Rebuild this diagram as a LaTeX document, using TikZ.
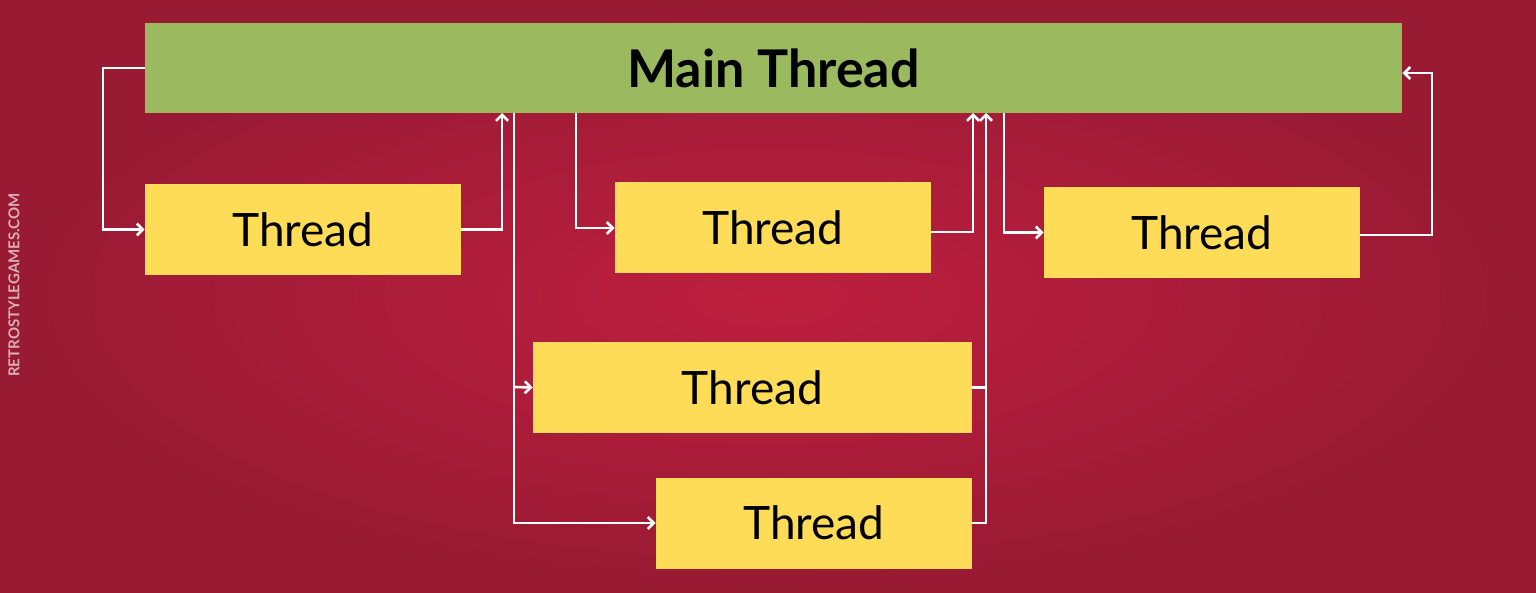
\documentclass[tikz,border=0pt]{standalone}
\usepackage{fontspec}
\setmainfont{Lato}
\usetikzlibrary{positioning,arrows.meta}
\definecolor{bgin}{HTML}{BE1F3F}
\definecolor{bgout}{HTML}{981A33}
\definecolor{mainbar}{HTML}{9BBA5F}
\definecolor{threadbox}{HTML}{FEDC58}
\begin{document}
\begin{tikzpicture}
[x=0.5pt,y=-0.5pt,
 thread/.style={fill=threadbox, draw=none, minimum width=158pt, minimum height=45.5pt, inner sep=0pt, font=\fontsize{23}{23}\selectfont},
 link/.style={draw=white, line width=1.3pt, ->, >={Straight Barb[length=3pt]}, rounded corners=0pt},
 plain/.style={draw=white, line width=1.3pt},]
\useasboundingbox (0,0) rectangle (1536,593);
% background
\shade[inner color=bgin, outer color=bgout] (0,0) rectangle (1536,593);
\node[rotate=90, text=white!65!bgout, font=\fontsize{7.5}{8}\selectfont\bfseries] (mark) at (14,285) {RETROSTYLEGAMES.COM};
% boxes
\node[fill=mainbar, minimum width=628.5pt, minimum height=45pt, inner sep=0pt, font=\fontsize{26}{26}\selectfont\bfseries] (main) at (773.5,68) {Main Thread};
\node[thread] (t1) at (303,229.5) {Thread};
\node[thread] (t2) at (773,228) {Thread};
\node[thread] (t3) at (1202,232.5) {Thread};
\node[thread, minimum width=219.5pt] (t4) at (752.5,387.5) {Thread};
\node[thread] (t5) at (814,523) {Thread};
% coordinates on the main bar
\coordinate (m1) at (502,113);
\coordinate (m2) at (514,113);
\coordinate (m3) at (576,113);
\coordinate (m4) at (973,113);
\coordinate (m5) at (986,113);
\coordinate (m6) at (1004,113);
% connectors
\draw[link] (main.west |- 0,68) -- (103,68) |- (t1.west);
\draw[link] (t1.east) -| (m1);
\draw[link] (m2) |- (t5.west);
\draw[link] (514,387) -- (t4.west);
\draw[link] (m3) |- (t2.west);
\draw[link] (t2.east |- 0,232) -| (m4);
\draw[link] (t4.east) -| (m5);
\draw[plain] (t5.east) -| (986,387);
\draw[link] (m6) |- (t3.west);
\draw[link] (t3.east |- 0,235) -- (1432,235) |- (main.east |- 0,73);
\end{tikzpicture}
\end{document}
